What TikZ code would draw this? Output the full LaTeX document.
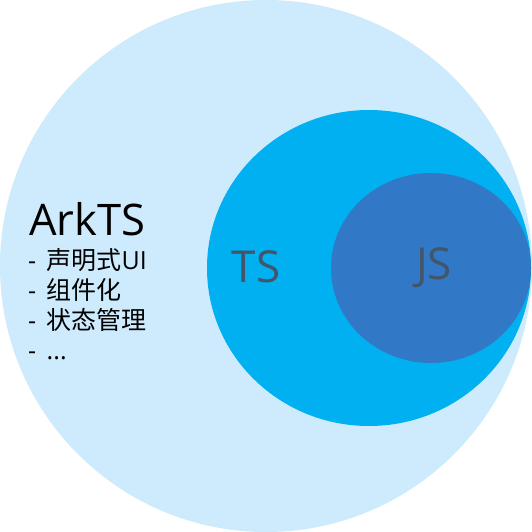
\documentclass[tikz,border=0pt]{standalone}
\usepackage{fontspec}
\setmainfont{Open Sans}
\newfontfamily\cjk{Noto Sans CJK SC}
\definecolor{outerc}{HTML}{CDEBFC}
\definecolor{midc}{HTML}{00B0F0}
\definecolor{innerc}{HTML}{3179C6}
\definecolor{labc}{HTML}{44546A}
\newcommand{\itemdash}{-\hspace{4pt} }
\begin{document}
\begin{tikzpicture}[x=1pt,y=-1pt,
  biglabel/.style={font=\fontsize{44}{48}\selectfont, text=labc, inner sep=0pt},
  titlelabel/.style={font=\fontsize{43.5}{46}\selectfont, text=black, inner sep=0pt, anchor=base west},
  itemlabel/.style={font=\fontsize{25}{28}\selectfont, text=black, inner sep=0pt, anchor=base west}]
\useasboundingbox (0,0) rectangle (532,532);
\fill[outerc] (266,266) circle[radius=266];
\fill[midc] (369,268) ellipse[x radius=162, y radius=158];
\fill[innerc] (431,268) ellipse[x radius=100, y radius=95];
\node[biglabel, anchor=base] (ts) at (256,282) {TS};
\node[biglabel, anchor=base] (js) at (434,279) {JS};
\node[titlelabel] (title) at (29,235) {ArkTS};
\node[itemlabel] (i1) at (28,269) {\itemdash{\cjk 声明式}UI};
\node[itemlabel] (i2) at (28,299) {\itemdash{\cjk 组件化}};
\node[itemlabel] (i3) at (28,329) {\itemdash{\cjk 状态管理}};
\node[itemlabel] (i4) at (28,359) {\itemdash...};
\end{tikzpicture}
\end{document}
